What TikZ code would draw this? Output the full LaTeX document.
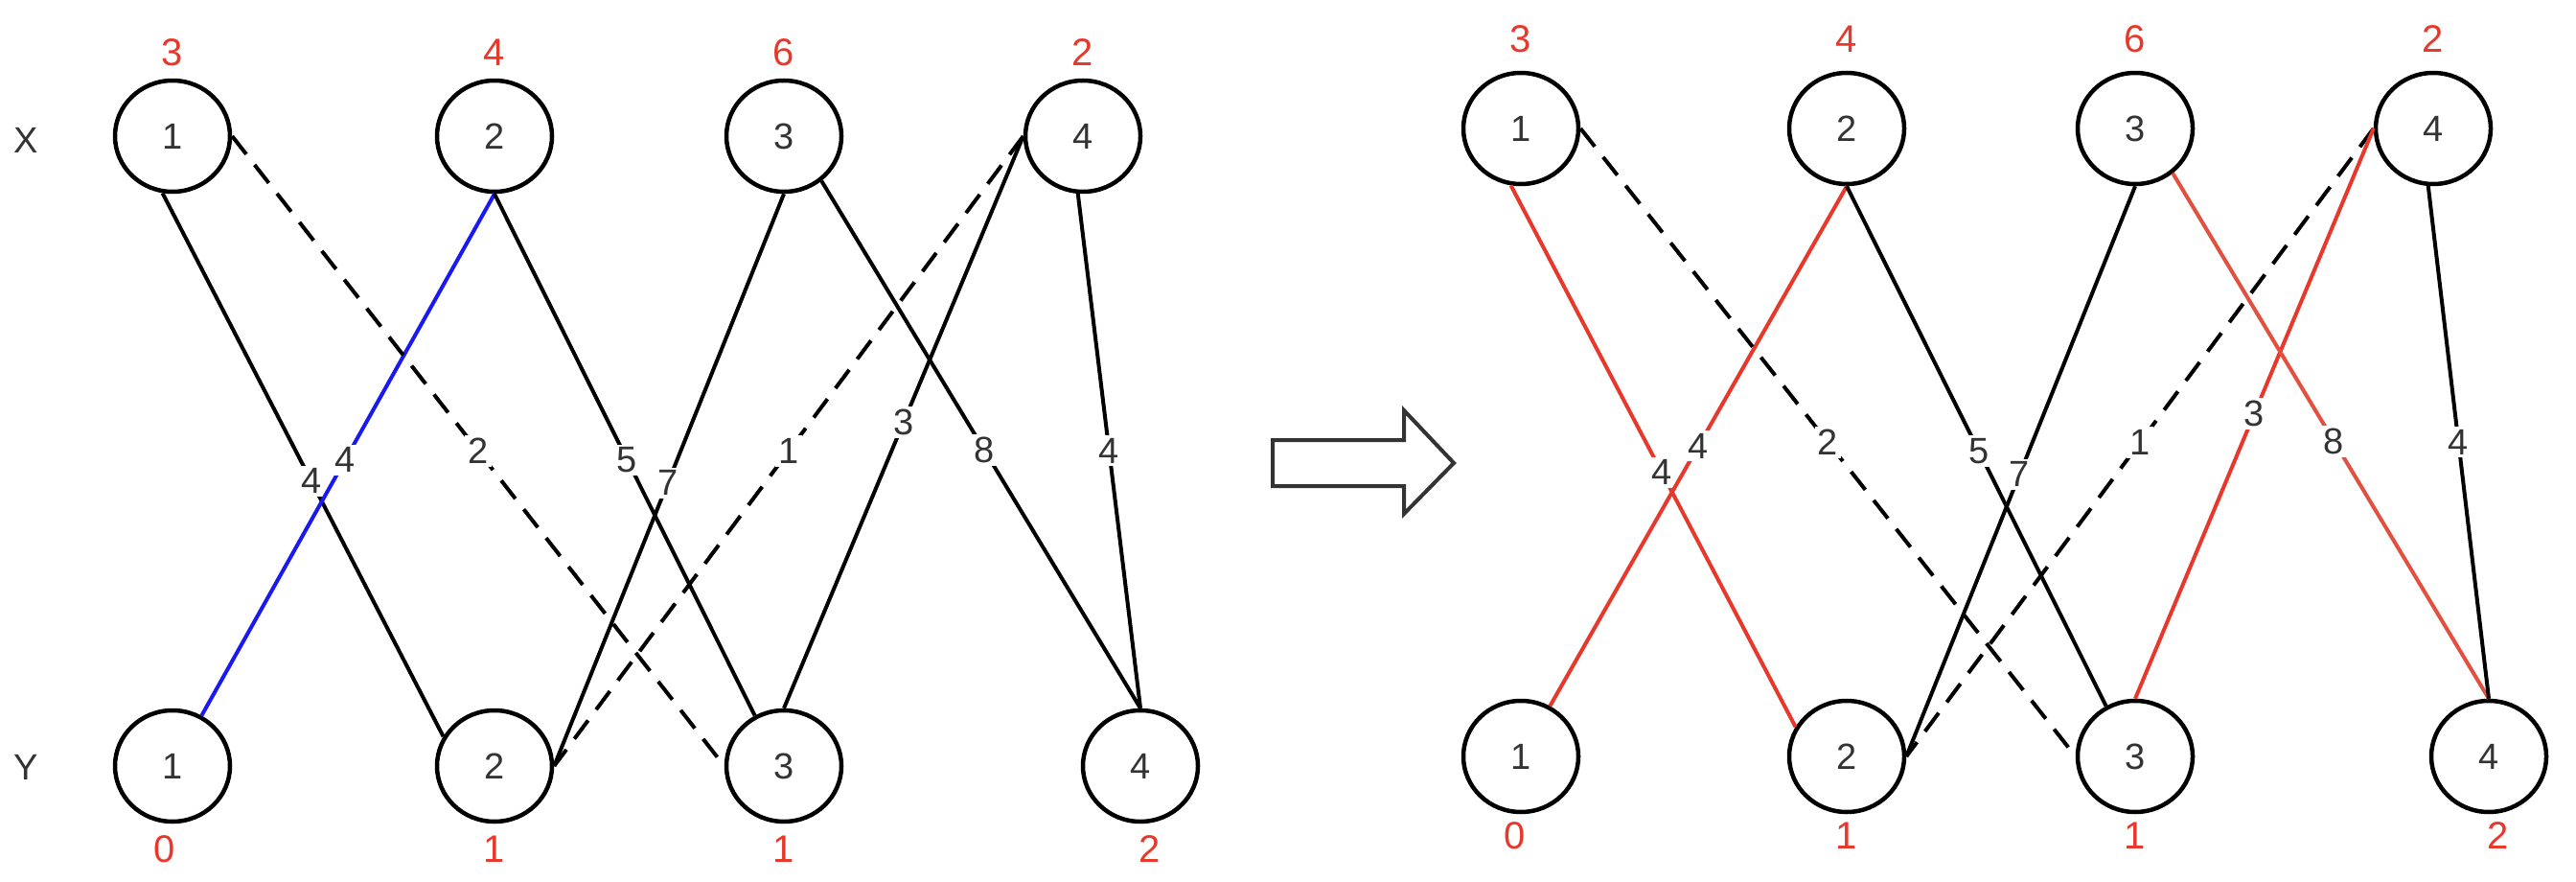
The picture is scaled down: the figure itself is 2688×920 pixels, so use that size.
\documentclass[tikz,border=0pt]{standalone}
\usepackage{fontspec}
\setmainfont{Liberation Sans}
\usetikzlibrary{shapes.geometric}
\definecolor{myred}{HTML}{E8382B}
\definecolor{myred2}{HTML}{E2513F}
\definecolor{myblue}{HTML}{1A1AF0}
\definecolor{txt}{HTML}{333333}
\begin{document}
\begin{tikzpicture}[x=1pt,y=-1pt,
  vert/.style={ellipse,draw=black,line width=4.5pt,minimum width=120pt,minimum height=116pt,inner sep=0pt,text=txt,font=\fontsize{38}{42}\selectfont},
  edge/.style={line width=4pt},
  dsh/.style={edge,dash pattern=on 24pt off 14pt},
  wt/.style={fill=white,inner sep=3pt,text=txt,font=\fontsize{38}{42}\selectfont},
  lab/.style={text=myred,font=\fontsize{40}{44}\selectfont},
  side/.style={text=txt,font=\fontsize{38}{42}\selectfont}]
\useasboundingbox (0,0) rectangle (2688,920);
% ---------- left panel ----------
\node[side] (lX) at (27,146) {X};
\node[side] (lY) at (27,800) {Y};
\node[vert] (a1) at (180,142) {1};
\node[vert] (a2) at (516,142) {2};
\node[vert] (a3) at (818,142) {3};
\node[vert] (a4) at (1130,142) {4};
\node[vert] (b1) at (180,799) {1};
\node[vert] (b2) at (516,799) {2};
\node[vert] (b3) at (818,799) {3};
\node[vert] (b4) at (1190,799) {4};
\node[lab] (ta1) at (180,55) {3};
\node[lab] (ta2) at (516,55) {4};
\node[lab] (ta3) at (818,55) {6};
\node[lab] (ta4) at (1130,55) {2};
\node[lab] (tb1) at (172,886) {0};
\node[lab] (tb2) at (516,886) {1};
\node[lab] (tb3) at (818,886) {1};
\node[lab] (tb4) at (1200,886) {2};
\draw[edge] (a1.-100) -- node[wt,pos=0.53]{4} (b2.150);
\draw[edge,myblue] (a2.south) -- node[wt,pos=0.51]{4} (b1.60);
\draw[dsh] (a1.east) -- node[wt,pos=0.50]{2} (b3.west);
\draw[edge] (a2.south) -- node[wt,pos=0.51]{5} (b3.120);
\draw[edge] (a3.south) -- node[wt,pos=0.505]{7} (b2.east);
\draw[dsh] (a4.west) -- node[wt,pos=0.50]{1} (b2.east);
\draw[edge] (a4.west) -- node[wt,pos=0.50]{3} (b3.north);
\draw[edge] (a3.-50) -- node[wt,pos=0.51]{8} (b4.north);
\draw[edge] (a4.-95) -- node[wt,pos=0.5]{4} (b4.north);
% ---------- arrow ----------
\draw[line width=4pt,draw=txt,line join=miter] (1328,459) -- (1465,459) -- (1465,428) -- (1517,483) -- (1465,536) -- (1465,507) -- (1328,507) -- cycle;
% ---------- right panel ----------
\node[vert] (c1) at (1587,134) {1};
\node[vert] (c2) at (1927,134) {2};
\node[vert] (c3) at (2228,134) {3};
\node[vert] (c4) at (2539,134) {4};
\node[vert] (d1) at (1587,789) {1};
\node[vert] (d2) at (1927,789) {2};
\node[vert] (d3) at (2228,789) {3};
\node[vert] (d4) at (2597,789) {4};
\node[lab] (tc1) at (1587,41) {3};
\node[lab] (tc2) at (1927,41) {4};
\node[lab] (tc3) at (2228,41) {6};
\node[lab] (tc4) at (2539,41) {2};
\node[lab] (td1) at (1581,872) {0};
\node[lab] (td2) at (1927,872) {1};
\node[lab] (td3) at (2228,872) {1};
\node[lab] (td4) at (2607,872) {2};
\draw[edge,myred] (c1.-100) -- node[wt,pos=0.53]{4} (d2.150);
\draw[edge,myred] (c2.south) -- node[wt,pos=0.50]{4} (d1.60);
\draw[dsh] (c1.east) -- node[wt,pos=0.50]{2} (d3.west);
\draw[edge] (c2.south) -- node[wt,pos=0.51]{5} (d3.120);
\draw[edge] (c3.south) -- node[wt,pos=0.505]{7} (d2.east);
\draw[dsh] (c4.west) -- node[wt,pos=0.50]{1} (d2.east);
\draw[edge,myred] (c4.west) -- node[wt,pos=0.50]{3} (d3.north);
\draw[edge,myred2] (c3.-50) -- node[wt,pos=0.51]{8} (d4.north);
\draw[edge] (c4.-95) -- node[wt,pos=0.5]{4} (d4.north);
\end{tikzpicture}
\end{document}
